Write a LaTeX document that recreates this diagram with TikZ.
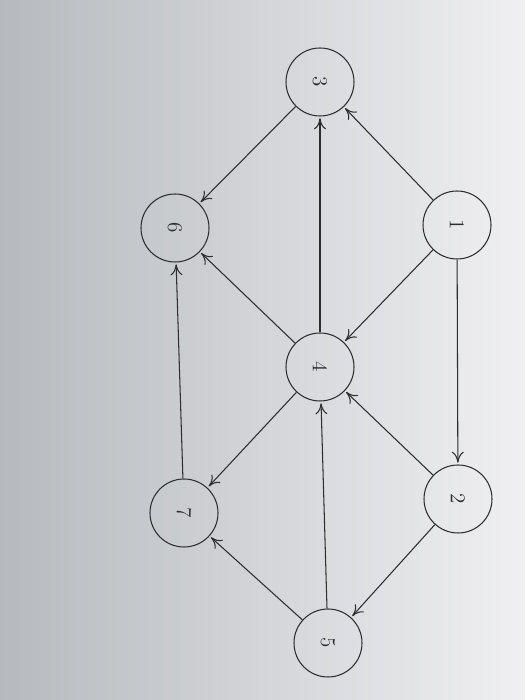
\documentclass[tikz,border=0pt]{standalone}
\usepackage{amsmath}
\usepackage{tikz}
\usetikzlibrary{positioning,arrows.meta}

\definecolor{paperdark}{RGB}{182,186,190}
\definecolor{paperlight}{RGB}{240,240,242}
\definecolor{inkgray}{RGB}{45,45,48}

\begin{document}
\begin{tikzpicture}[shorten >=1pt,on grid,auto,>={To[length=2.2mm,width=2.4mm]},
    vertex/.style={circle,draw=inkgray,minimum size=1.36cm,inner sep=0pt,
      rotate=-90,font=\large,text=inkgray,semithick}]
    % paper background
    \shade[left color=paperdark,right color=paperlight] (0,0) rectangle (10.5,14);
    \useasboundingbox (0,0) rectangle (10.5,14);
    \node[vertex] (v_4) at (6.4,6.66) {4};
    \node[vertex] (v_3) [above=5.7cm of v_4] {3};
    \node[vertex] (v_1) [above right=2.84cm and 2.74cm of v_4] {1};
    \node[vertex] (v_6) [above left=2.78cm and 2.9cm of v_4] {6};
    \node[vertex] (v_2) [below right=2.64cm and 2.76cm of v_4] {2};
    \node[vertex] (v_7) [below left=2.92cm and 2.72cm of v_4] {7};
    \node[vertex] (v_5) [below right=5.52cm and 0.16cm of v_4] {5};
    \path[->,draw=inkgray,semithick]
    (v_1) edge (v_3)
        edge (v_4)
        edge (v_2)
    (v_3) edge (v_6)
    (v_4) edge (v_3)
        edge (v_6)
        edge (v_7)
    (v_2) edge (v_4)
        edge (v_5)
    (v_5) edge (v_4)
        edge (v_7)
    (v_7) edge (v_6)
        ;

\end{tikzpicture}
\end{document}
